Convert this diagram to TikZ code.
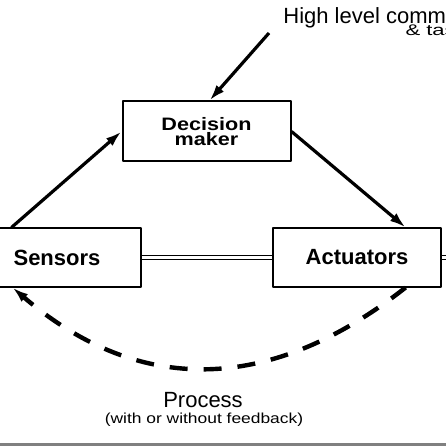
\documentclass[tikz,border=0pt]{standalone}
\usepackage{fontspec}
\setmainfont{Liberation Sans}
\newfontfamily\widefont{Liberation Sans}[FakeStretch=1.2]
\usetikzlibrary{arrows.meta,calc}
\newcommand\tightlines{\lineskiplimit-10pt\relax}

\begin{document}
\begin{tikzpicture}[x=0.5bp,y=-0.5bp,line join=round,
    >={Latex[length=8bp,width=5bp]},
    blok/.style={draw,line width=1bp,minimum width=84bp,minimum height=29bp,inner sep=0pt,
        font=\fontsize{11bp}{13bp}\selectfont\bfseries},
    pijl/.style={->,line width=1.6bp}]
    \useasboundingbox (0,0) rectangle (446,446);
    \clip (0,0) rectangle (446,446);
    % blocks
    \node[blok] (sensors) at (57,257.5) {Sensors};
    \node[blok] (actuators) at (357,257.5) {Actuators};
    \node[blok,minimum height=30bp,align=center,
        font={\widefont\fontsize{9bp}{7.5bp}\selectfont\bfseries\tightlines}] (decision) at (206.5,131.5) {Decision\\maker};
    \coordinate (cmd) at (269,33);
    \coordinate (stub) at (460,257.5);
    % texts
    \node[anchor=base west,inner sep=0pt,align=right,
        font={\fontsize{11bp}{6bp}\selectfont\tightlines}] (cmdtext) at (283,36) {High level commands\\\scalebox{1}[0.7]{\& tasks}\hspace*{8bp}};
    \node[anchor=base,inner sep=0pt,font=\fontsize{11bp}{13bp}\selectfont] (process) at (203,407) {Process};
    \node[anchor=base,inner sep=0pt,font=\widefont\fontsize{7.25bp}{9bp}\selectfont] (feedback) at (204,423) {(with or without feedback)};
    % connectors
    \draw[pijl] (cmd) -- ($(decision.north)+(3,0)$);
    \draw[pijl] ($(sensors.north west)!0.232!(sensors.north east)$) -- (decision.west);
    \draw[pijl] (decision.east) -- ($(actuators.north west)!0.786!(actuators.north east)$);
    \draw[double,line width=0.75bp,double distance=1bp] (sensors.east) -- (actuators.west);
    \draw[double,line width=0.75bp,double distance=1bp] (actuators.east) -- (stub);
    \draw[->,line width=2.2bp,dash pattern=on 9bp off 8bp]
        ($(actuators.south west)!0.786!(actuators.south east)$) .. controls (269,395) and (138,395) ..
        ($(sensors.south west)!0.238!(sensors.south east)$);
    % bottom rule
    \draw[gray,line width=1.5bp] (0,444.5) -- (446,444.5);
\end{tikzpicture}
\end{document}
